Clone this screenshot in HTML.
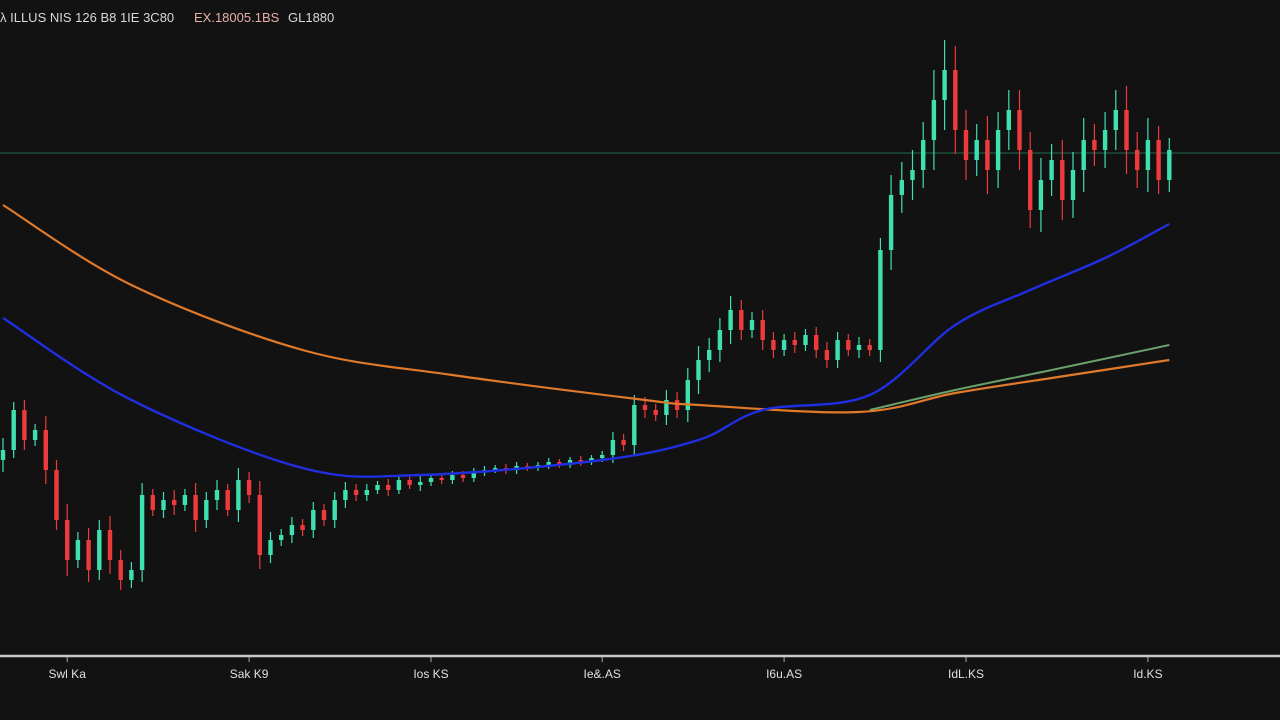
<!DOCTYPE html>
<html><head><meta charset="utf-8"><style>
html,body{margin:0;padding:0;background:#121212;width:1280px;height:720px;overflow:hidden}
svg{display:block}
text{font-family:"Liberation Sans",sans-serif}
</style></head><body>
<svg id="c" width="1280" height="720">
<rect width="1280" height="720" fill="#121212"/>
<g>
<text x="0" y="22" fill="#d8d8d8" font-size="13">λ ILLUS  NIS 126  B8 1IE 3C80</text>
<text x="194" y="22" fill="#e8b0a8" font-size="13">EX.18005.1BS</text>
<text x="288" y="22" fill="#d8d8d8" font-size="13">GL1880</text>
</g>
</svg>
<script>
const closes=[206,246,216,226,186,136,96,116,86,126,96,76,86,161,146,156,151,161,136,156,166,146,176,161,101,116,121,131,126,146,136,156,166,161,166,171,166,176,171,174,178,176,181,178,184,186,188,186,190,188,191,194,191,196,194,198,201,216,211,251,246,241,256,246,276,296,306,326,346,326,336,316,306,316,311,321,306,296,316,306,311,306,406,461,476,486,516,556,586,526,496,516,486,526,546,506,446,476,496,456,486,516,506,526,546,506,486,516,476,506];
const wicks=[12,8,10,6,14,10,16,8,12,10,14,10,8,12,6,8,10,6,12,8,10,6,12,8,14,8,6,8,6,8,6,8,8,6,6,4,6,4,4,6,4,4,4,4,4,4,3,4,4,3,3,4,3,3,4,3,4,8,6,10,8,6,10,8,12,14,12,12,14,10,8,10,8,6,8,6,8,8,8,6,8,6,12,20,18,20,18,30,30,24,20,16,24,18,20,20,18,22,16,20,18,22,16,18,20,24,18,22,14,12];
const maIdx=[0,12,28,42,60,65,80,89,98,109];
const maOrange=[451,371,306,281,256,251,244,263,278,296];
const blueIdx=[0,12,28,39,56,65,71,81,89,96,103,109];
const maBlue=[338,256,188,181,196,216,246,261,331,366,398,432];
const greenIdx=[81,89,98,109];
const maGreen=[246,266,286,311];
const xTicks=["Swl Ka","Sak K9","Ios KS","Ie&.AS","I6u.AS","IdL.KS","Id.KS"];
const xTickIdx=[6,23,40,56,73,90,107];
const svg=document.getElementById('c');
const NS='http://www.w3.org/2000/svg';
const X=i=>3+i*10.7;
const Y=v=>656-v;
function mk(t,a){const e=document.createElementNS(NS,t);for(const k in a)e.setAttribute(k,a[k]);svg.appendChild(e);return e;}
const hl=mk('line',{x1:0,x2:1280,y1:153,y2:153,stroke:'#1f6b4a','stroke-width':1});


closes.forEach((c,i)=>{
  const o=i?closes[i-1]:c-10;
  const up=c>=o;
  const col=up?'#3fe0b0':'#ee3a3a';
  const hi=Math.max(o,c)+wicks[i], lo=Math.min(o,c)-wicks[i];
  const w=mk('line',{x1:X(i),x2:X(i),y1:Y(hi),y2:Y(lo),stroke:col,'stroke-width':1.2});
  
  
  const top=Y(Math.max(o,c)),h=Math.max(2,Math.abs(c-o));
  const b=mk('rect',{x:X(i)-2.2,y:top,width:4.4,height:h,fill:col});
  
  
});
function line(idx,vals,col,name,wd){
  const P=idx.map((ix,k)=>[X(ix),Y(vals[k])]);
  let d='M'+P[0][0]+','+P[0][1];
  for(let k=0;k<P.length-1;k++){
    const p0=P[k-1]||P[k],p1=P[k],p2=P[k+1],p3=P[k+2]||P[k+1];
    const c1=[p1[0]+(p2[0]-p0[0])/6,p1[1]+(p2[1]-p0[1])/6];
    const c2=[p2[0]-(p3[0]-p1[0])/6,p2[1]-(p3[1]-p1[1])/6];
    d+=' C'+c1.join(',')+' '+c2.join(',')+' '+p2.join(',');
  }
  const p=mk('path',{d,fill:'none',stroke:col,'stroke-width':wd});
  
  
}
line(greenIdx,maGreen,'#6aa06a','ma-green-line',2);
line(maIdx,maOrange,'#e07a2a','ma-orange-line',2.2);
line(blueIdx,maBlue,'#1f2fe0','ma-blue-line',2.4);
const ax=mk('line',{x1:0,x2:1280,y1:656,y2:656,stroke:'#c8c8c8','stroke-width':2.5});


xTicks.forEach((t,k)=>{
  const x=X(xTickIdx[k]);
  const tk=mk('line',{x1:x,x2:x,y1:657,y2:662,stroke:'#aaa','stroke-width':1});
  
  
  const tx=mk('text',{x:x,y:678,fill:'#e0e0e0','font-size':12,'text-anchor':'middle'});
  tx.textContent=t;
  
  
});
</script>
</body></html>
